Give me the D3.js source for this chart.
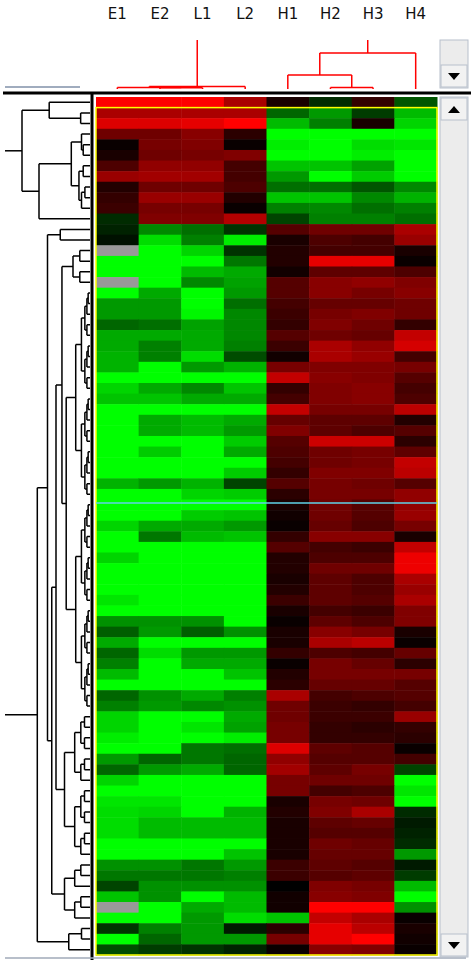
<!DOCTYPE html>
<html>
<head>
<meta charset="utf-8">
<script src="https://cdn.jsdelivr.net/npm/d3@7"></script>
<style>
  body { margin: 0; background: #fff; }
  svg { display: block; }
</style>
</head>
<body>
<svg width="474" height="963"></svg>
<script>
// samples (columns)
const samples = ['E1', 'E2', 'L1', 'L2', 'H1', 'H2', 'H3', 'H4']

// log ratio values per row (null = missing)
const rows = [
  [3, 3, 3, 2, 0.3, -0.5, 0.6, -1],
  [2, 2, 2, 2, -1.2, -1.8, -0.7, -2.2],
  [2.6, 2.6, 2.7, 3, -2.2, -1.5, 0.3, -2.5],
  [1.3, 1.3, 1.6, 0.5, -3, -3, -3, -3],
  [0.1, 1.4, 1.5, 0.1, -2.8, -3, -2.6, -2.7],
  [0.3, 1.3, 1.4, 1.5, -3, -3, -2.8, -3],
  [0.9, 1.7, 1.7, 0.8, -2.3, -2.3, -1.9, -3],
  [1.8, 1.9, 1.9, 0.8, -1.8, -3, -2.4, -3],
  [0.4, 1.3, 1.3, 0.9, -1.3, -1.3, -1, -1.6],
  [0.6, 1.8, 1.8, 0.4, -2.3, -2.3, -1.6, -2.1],
  [0.7, 1.4, 1.4, 0.1, -1.5, -1.6, -1.3, -1.5],
  [-0.5, 1.5, 1.5, 2.1, -0.8, -1.5, -1.5, -1.3],
  [-0.4, -1.6, -1.3, -0.6, 1.0, 1.3, 1.3, 2.0],
  [-0.2, -2.6, -1.5, -2.8, 0.3, 0.9, 0.8, 1.8],
  [null, -3, -2.5, -0.6, 0.4, 0.8, 0.8, 0.3],
  [-3, -3, -3, -1.4, 0.4, 2.7, 2.7, 0.1],
  [-3, -3, -2.2, -2, 0.2, 1.1, 1.1, 0.9],
  [null, -3, -1.6, -1.9, 1.0, 1.6, 1.7, 1.5],
  [-3, -2, -3, -1.8, 1.0, 1.6, 1.4, 1.6],
  [-1.8, -1.8, -3, -1.3, 0.8, 1.2, 1.2, 1.3],
  [-1.8, -1.8, -2.9, -1.6, 0.7, 1.4, 1.5, 1.3],
  [-1.2, -1.3, -1.9, -1.6, 0.6, 1.5, 1.3, 0.6],
  [-2, -2, -2, -1.6, 1.0, 1.3, 1.2, 2.3],
  [-2, -1.5, -2, -1.5, 0.7, 2.0, 1.7, 2.5],
  [-2.1, -1.5, -2.6, -0.9, 0.2, 2.0, 1.8, 0.8],
  [-2.1, -3, -1.8, -2.1, 1.4, 1.5, 1.5, 1.4],
  [-3, -3, -3, -3, 2.3, 1.6, 1.5, 1.0],
  [-2.5, -2, -1.6, -2.3, 0.6, 1.5, 1.6, 0.8],
  [-2.3, -2.3, -2, -2, 0.8, 1.5, 1.6, 0.9],
  [-3, -3, -3, -3, 2.3, 1.4, 1.4, 2.2],
  [-3, -2, -2.2, -2, 1.2, 1.1, 1.1, 0.4],
  [-3, -2, -2.2, -1.8, 1.5, 1.1, 0.9, 1.0],
  [-3, -3, -3, -2.4, 1.0, 2.4, 2.4, 0.5],
  [-3, -2.4, -3, -2, 0.9, 1.3, 1.4, 1.1],
  [-3, -3, -3, -3, 0.8, 1.3, 1.4, 2.3],
  [-3, -3, -3, -2.4, 0.6, 1.5, 1.5, 2.2],
  [-2.1, -1.8, -2.1, -0.8, 1, 1.4, 1.3, 1.0],
  [-3, -3, -2.5, -2.4, 0.5, 1.4, 1.4, 1.7],
  [-3, -3, -3, -3, 0.3, 1.3, 1.0, 1.7],
  [-3, -3, -2.4, -2.3, 0.2, 1.3, 1.0, 1.8],
  [-2.5, -2, -2, -1.8, 0.1, 1.2, 0.9, 1.4],
  [-3, -1.4, -2.2, -2.3, 0.6, 1.6, 1.6, 0.3],
  [-3, -3, -3, -3, 1.0, 0.8, 0.7, 2.3],
  [-2.5, -3, -3, -3, 0.4, 0.9, 0.9, 2.8],
  [-3, -3, -3, -3, 0.4, 1.3, 1.3, 2.8],
  [-3, -3, -3, -3, 0.3, 1.1, 0.9, 2],
  [-3, -3, -3, -3, 0.4, 1.1, 0.9, 1.8],
  [-2.7, -3, -3, -3, 0.7, 1.1, 1.0, 2],
  [-3, -3, -3, -3, 0.3, 0.8, 0.7, 1.5],
  [-1.7, -1.7, -1.7, -3, 0.1, 1.1, 0.9, 1.5],
  [-1.1, -1.8, -1.1, -1.7, 0.3, 1.6, 1.4, 0.3],
  [-2, -3, -3, -3, 0.3, 2, 2.2, 0.1],
  [-1.2, -2.6, -1.8, -1.8, 0.6, 0.9, 0.8, 1.2],
  [-1.5, -3, -2, -2, 0.1, 1.4, 1.2, 0.5],
  [-2.2, -3, -3, -2.3, 0.4, 1.4, 1.4, 1.4],
  [-3, -3, -3, -3, 0.5, 1.2, 1.2, 1.0],
  [-1.2, -1.7, -2, -1.5, 2, 0.8, 0.9, 1.0],
  [-1.5, -1.8, -1.6, -1.7, 1.3, 0.7, 0.6, 0.8],
  [-2.5, -3, -3, -2, 1.3, 0.7, 0.7, 1.8],
  [-2.5, -3, -2.7, -1.9, 1.4, 0.6, 0.5, 0.6],
  [-2.8, -3, -3, -2.8, 1.4, 0.6, 0.6, 0.5],
  [-3, -3, -1.4, -1.3, 2.6, 1.1, 1, 0.1],
  [-1.8, -1.2, -1.4, -1.2, 1.7, 1, 1, 0.8],
  [-1.2, -1.8, -2, -1.2, 1.9, 1.1, 1.4, -0.8],
  [-2.5, -3, -3, -3, 1.4, 1.3, 1.3, -3],
  [-3, -3, -3, -3, 1.4, 0.8, 0.9, -2.7],
  [-2.7, -2.7, -3, -3, 0.3, 1.4, 1.3, -3],
  [-2.6, -2.5, -3, -2.1, 0.4, 1.5, 2.0, -0.5],
  [-2.6, -2.2, -2.2, -2.2, 0.3, 1.1, 1.2, -0.3],
  [-2.6, -2.2, -2.2, -2.2, 0.3, 1.0, 1.0, -0.4],
  [-3, -3, -3, -3, 0.3, 1.3, 1.2, -0.5],
  [-3, -3, -3, -2.3, 0.3, 1.2, 1.2, -1.8],
  [-1.7, -1.7, -1.4, -1.8, 0.7, 1.1, 1.0, -0.3],
  [-1.4, -1.4, -1.4, -1.5, 0.7, 1.0, 1.1, -0.7],
  [-0.8, -1.7, -1.7, -1.7, 0, 1.5, 1.4, -2.2],
  [-2.3, -1.7, -3, -2.2, 0.2, 1.6, 1.5, -3],
  [null, -3, -2, -2.2, 0.2, 3, 3, -1.7],
  [-3, -3, -1.8, -2.6, -2.3, 2.3, 2, 0.1],
  [-0.6, -1.5, -1.8, -0.3, 0.5, 2.7, 2.2, 0.3],
  [-3, -1.2, -1.8, -1.8, 1.4, 2.7, 3, 0.2],
  [-0.9, -0.7, -0.6, -0.4, 0.1, 1.6, 1.5, 0.1]
]

// column dendrogram: [height, left, right], leaves = column index
const colTrees = [
  [0.9, [0.1, [0.06, 0, [0.04, 1, 2]], 3], 0.1 && 3],
  [0.9, [0.35, 4, [0.04, 5, 6]], 7]
]
colTrees[0] = [0.9, [0.06, [0.04, 0, [0.03, 1, 2]], 3], null]

// row dendrogram helper for fine structure
function r(lo, hi, h) {
  if (lo === hi) return lo
  const mid = Math.floor((lo + hi) / 2)
  return [h, r(lo, mid, h * 0.6), r(mid + 1, hi, h * 0.6)]
}
const rowTrees = [
  [0.8, [0.48, 0, [0.11, 1, 2]],
        [0.6, [0.22, [0.1, 3, [0.08, 4, 5]], [0.13, [0.08, 6, 7], [0.1, [0.06, 8, 9], 10]]], 11]],
  [0.62, [0.5, [0.35, 12, 13],
           [0.45, [0.4, [0.33, r(14, 17, 0.2), r(18, 57, 0.28)], r(58, 71, 0.3)], r(72, 77, 0.3)]],
         [0.25, [0.1, 78, 79], 80]]
]

const svg = d3.select('svg')

const x = d3.scaleBand().domain(d3.range(samples.length)).range([96, 437])
const y = d3.scaleBand().domain(d3.range(rows.length)).range([97, 955])
const color = d3.scaleLinear().domain([-3, 0, 3]).range(['#00ff00', '#000000', '#ff0000']).clamp(true)

// cells
rows.forEach((row, i) => {
  svg.selectAll(null)
    .data(row)
    .enter()
    .append('rect')
      .attr('x', (d, j) => x(j))
      .attr('y', y(i))
      .attr('width', x.bandwidth() + 0.5)
      .attr('height', y.bandwidth() + 0.5)
      .attr('fill', d => d === null ? '#999999' : color(d))
})

// selection outline & markers
svg.append('rect')
    .attr('x', 96).attr('y', y(1))
    .attr('width', 341).attr('height', 955 - y(1))
    .attr('fill', 'none').attr('stroke', '#ffff00').attr('stroke-width', 1.5)
svg.append('line')
    .attr('x1', 96).attr('x2', 437)
    .attr('y1', 503).attr('y2', 503)
    .attr('stroke', '#5fd3e8').attr('stroke-width', 1.5)

// dendrogram drawing
function drawTree(node, pos, hScale, horiz, stroke) {
  if (node === null) return null
  if (typeof node === 'number') return { p: pos(node), h: 0 }
  const a = drawTree(node[1], pos, hScale, horiz, stroke)
  const b = drawTree(node[2], pos, hScale, horiz, stroke)
  const h = node[0]
  const kids = [a, b].filter(k => k)
  const path = d3.path()
  kids.forEach(k => {
    if (horiz) { path.moveTo(hScale(k.h), k.p); path.lineTo(hScale(h), k.p) }
    else { path.moveTo(k.p, hScale(k.h)); path.lineTo(k.p, hScale(h)) }
  })
  if (kids.length === 2) {
    if (horiz) { path.moveTo(hScale(h), a.p); path.lineTo(hScale(h), b.p) }
    else { path.moveTo(a.p, hScale(h)); path.lineTo(b.p, hScale(h)) }
  }
  svg.append('path').attr('d', path.toString())
      .attr('fill', 'none').attr('stroke', stroke).attr('stroke-width', 1.5)
  const p = kids.length === 2 ? (a.p + b.p) / 2 : kids[0].p
  return { p: p, h: h }
}

const rowH = d3.scaleLinear().domain([0, 1]).range([90, 5])
rowTrees.forEach(t => {
  const res = drawTree(t, i => y(i) + y.bandwidth() / 2, rowH, true, '#000')
  svg.append('line').attr('x1', rowH(res.h)).attr('x2', 5)
      .attr('y1', res.p).attr('y2', res.p).attr('stroke', '#000').attr('stroke-width', 1.5)
})

const colH = d3.scaleLinear().domain([0, 0.9]).range([89, 53])
colTrees.forEach(t => {
  const res = drawTree(t, j => x(j) + x.bandwidth() / 2, colH, false, '#ff0000')
  svg.append('line').attr('x1', res.p).attr('x2', res.p)
      .attr('y1', colH(res.h)).attr('y2', 40).attr('stroke', '#ff0000').attr('stroke-width', 1.5)
})

// column labels
svg.selectAll('text.lab')
  .data(samples)
  .enter()
  .append('text')
    .attr('x', (d, j) => x(j) + x.bandwidth() / 2)
    .attr('y', 19)
    .attr('text-anchor', 'middle')
    .attr('font-family', 'DejaVu Sans, sans-serif')
    .attr('font-size', 15)
    .attr('fill', '#111')
    .text(d => d)

// frame lines
svg.append('line').attr('x1', 3).attr('x2', 471).attr('y1', 93).attr('y2', 93)
    .attr('stroke', '#000').attr('stroke-width', 3)
svg.append('line').attr('x1', 92).attr('x2', 92).attr('y1', 92).attr('y2', 960)
    .attr('stroke', '#000').attr('stroke-width', 3)
svg.append('line').attr('x1', 5).attr('x2', 80).attr('y1', 87).attr('y2', 87)
    .attr('stroke', '#8090a8').attr('stroke-width', 1.5)
svg.append('line').attr('x1', 5).attr('x2', 466).attr('y1', 958).attr('y2', 958)
    .attr('stroke', '#a0aab8').attr('stroke-width', 1.5)

// scrollbars
function scrollbar(x0, y0, w, h, up, down) {
  svg.append('rect').attr('x', x0).attr('y', y0).attr('width', w).attr('height', h)
      .attr('fill', '#ececec').attr('stroke', '#b8c0cc')
  if (up) {
    svg.append('rect').attr('x', x0 + 1).attr('y', y0 + 1).attr('width', w - 2).attr('height', 22)
        .attr('fill', '#f2f2f2').attr('stroke', '#b8c0cc')
    svg.append('path').attr('d', `M${x0 + w / 2 - 6},${y0 + 16} L${x0 + w / 2 + 6},${y0 + 16} L${x0 + w / 2},${y0 + 9} Z`)
  }
  if (down) {
    svg.append('rect').attr('x', x0 + 1).attr('y', y0 + h - 23).attr('width', w - 2).attr('height', 22)
        .attr('fill', '#f2f2f2').attr('stroke', '#b8c0cc')
    svg.append('path').attr('d', `M${x0 + w / 2 - 6},${y0 + h - 15} L${x0 + w / 2 + 6},${y0 + h - 15} L${x0 + w / 2},${y0 + h - 8} Z`)
  }
}
scrollbar(440, 40, 28, 48, false, true)
scrollbar(440, 97, 28, 860, true, true)
</script>
</body>
</html>
